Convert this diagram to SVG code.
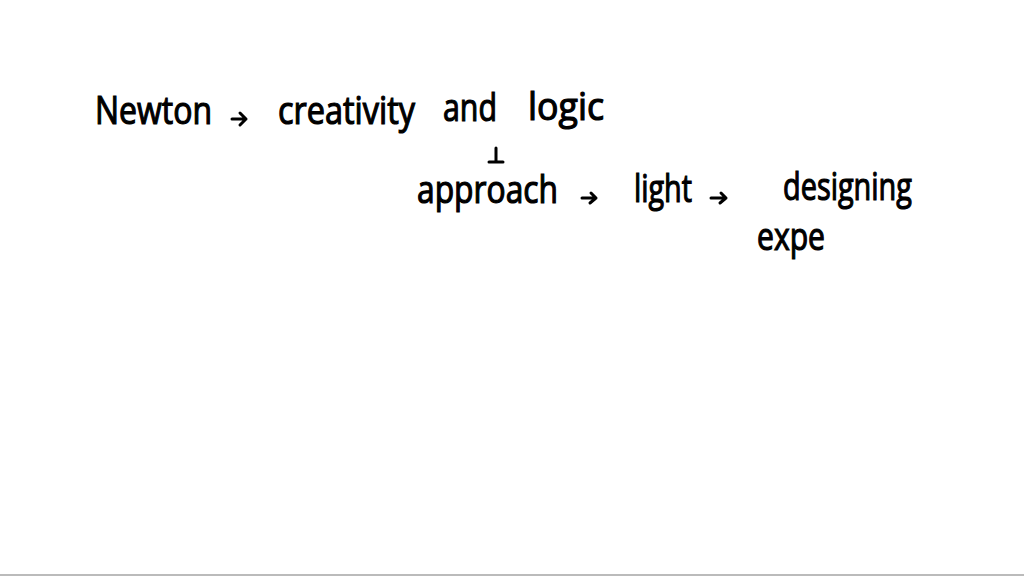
<svg xmlns="http://www.w3.org/2000/svg" width="1024" height="576" viewBox="0 0 1024 576">
<style>
.t{font-family:"Open Sans","Liberation Sans",sans-serif;font-size:38px;fill:#000;stroke:#000;stroke-width:1.2;}
.c{fill:none;stroke:#000;stroke-width:3;stroke-linecap:round;stroke-linejoin:round;}
</style>
<defs>
<marker id="ah" viewBox="0 0 10 10" refX="8" refY="5" markerWidth="5" markerHeight="5" orient="auto" markerUnits="userSpaceOnUse">
<path d="M2,1 L8,5 L2,9" fill="none" stroke="#000" stroke-width="2.2" stroke-linecap="round"/>
</marker>
</defs>
<rect width="1024" height="576" fill="#fff"/>
<g id="newton"><text class="t" x="95" y="124" textLength="117" lengthAdjust="spacingAndGlyphs">Newton</text></g>
<g id="creativity"><text class="t" x="278" y="124" textLength="137" lengthAdjust="spacingAndGlyphs">creativity</text></g>
<g id="and"><text class="t" x="443" y="121" textLength="54" lengthAdjust="spacingAndGlyphs">and</text></g>
<g id="logic"><text class="t" x="528" y="120" textLength="76" lengthAdjust="spacingAndGlyphs">logic</text></g>
<g id="approach"><text class="t" x="417" y="203" textLength="141" lengthAdjust="spacingAndGlyphs">approach</text></g>
<g id="light"><text class="t" x="634" y="202" textLength="58" lengthAdjust="spacingAndGlyphs">light</text></g>
<g id="designing"><text class="t" x="783" y="200" textLength="129" lengthAdjust="spacingAndGlyphs">designing</text></g>
<g id="expe"><text class="t" x="757" y="250" textLength="68" lengthAdjust="spacingAndGlyphs">expe</text></g>
<g id="connectors">
<path class="c" d="M232,119 L246,119 M240,113 L246,119 L240,125"/>
<path class="c" d="M496,148 L496,162 M489,162 L503,162"/>
<path class="c" d="M582,198 L596,198 M591,193 L596,198 L590,203"/>
<path class="c" d="M711,198 L726,198 M721,193 L726,198 L720,203"/>
</g>
<line x1="0" y1="575" x2="1024" y2="575" stroke="#bbb" stroke-width="2"/>
</svg>
